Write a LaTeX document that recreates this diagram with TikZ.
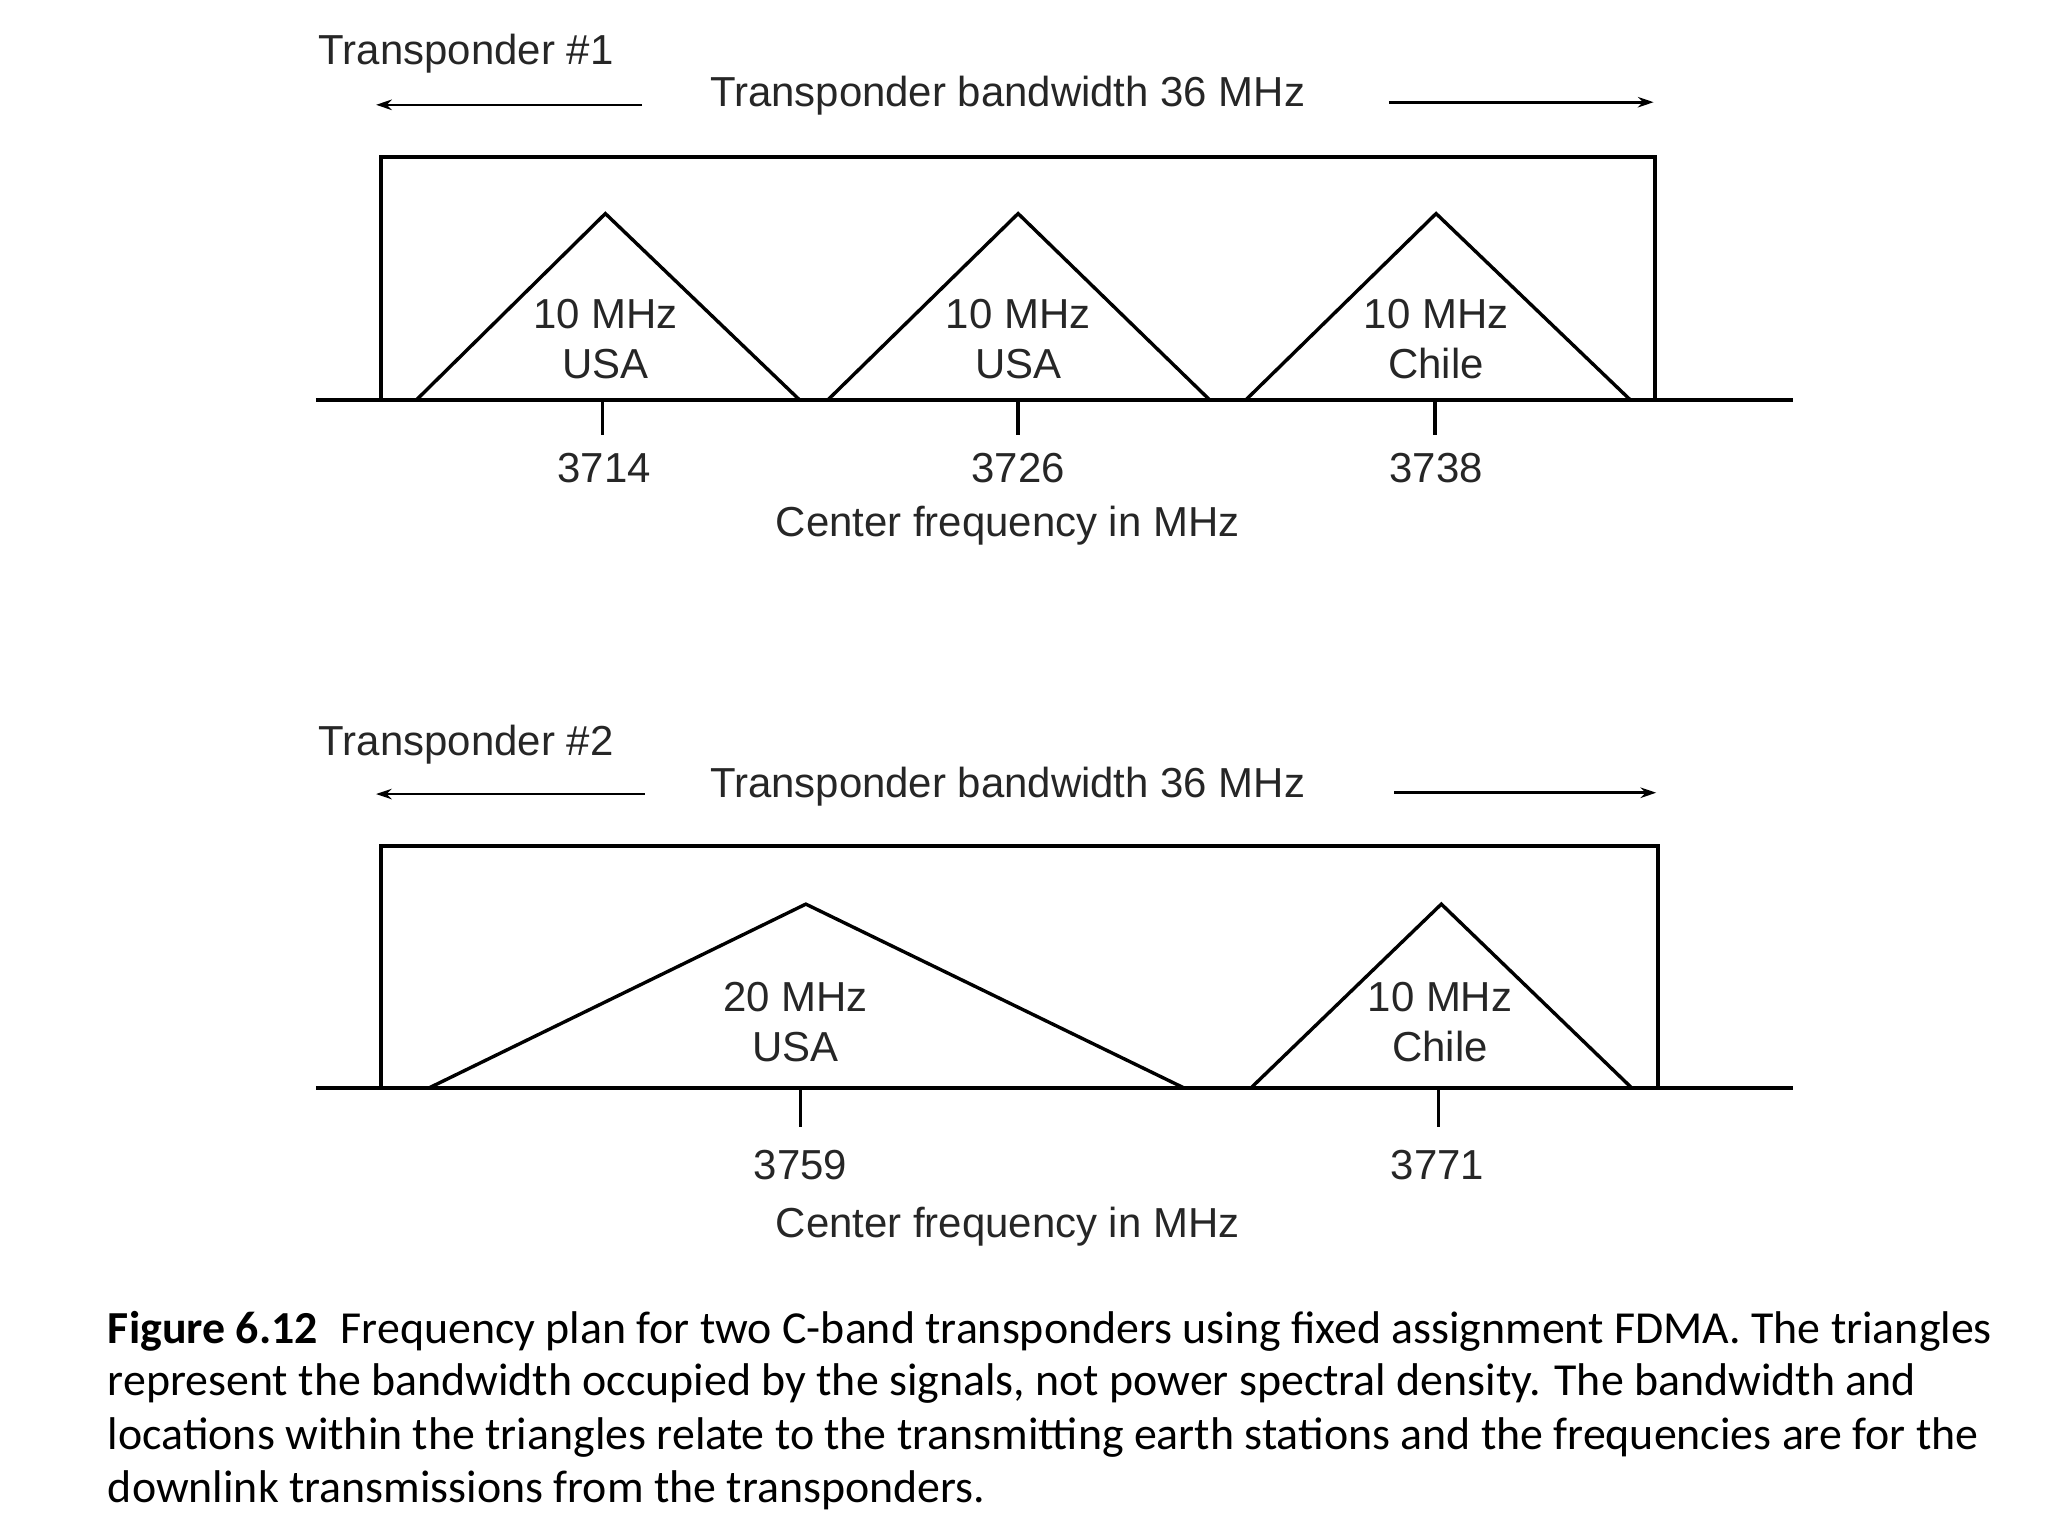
\documentclass[tikz,border=0pt]{standalone}
\usepackage{fontspec}
\usetikzlibrary{arrows.meta}
\setmainfont{Liberation Sans}
\newfontfamily\capfont{Carlito}
\begin{document}
\begin{tikzpicture}[x=0.5pt,y=-0.5pt,
  lbl/.style={font=\fontsize{16}{18}\selectfont, inner sep=0pt, text=black!85},
  ln/.style={line width=1.5pt},
  tri/.style={line width=1.3pt, line join=miter},
  arr/.style={line width=1pt,-{Stealth[length=6pt,width=4pt]}},
  captxt/.style={font=\capfont\fontsize{17.5}{20}\selectfont, anchor=west, inner sep=0pt}]
\useasboundingbox (0,0) rectangle (1563,1172);
% ---------- Panel 1
\node[lbl,anchor=west] (t1) at (243,41) {Transponder \#1};
\node[lbl] (bw1) at (769,73) {Transponder bandwidth 36 MHz};
\coordinate (a1s) at (490,80); \coordinate (a1e) at (287,80);
\coordinate (b1s) at (1060,78); \coordinate (b1e) at (1262,78);
\draw[arr] (a1s) -- (a1e);
\draw[arr] (b1s) -- (b1e);
\draw[ln] (291,305) -- (291,120) -- (1263,120) -- (1263,305);
\draw[ln] (241,305) -- (1368,305);
\draw[tri] (318,305) -- (462,163) -- (610,305);
\draw[tri] (632,305) -- (777,163) -- (923,305);
\draw[tri] (951,305) -- (1096,163) -- (1244,305);
\foreach \x in {460,777,1095}{\draw[line width=1.3pt] (\x,305) -- (\x,332);}
\node[lbl,align=center] (s1) at (462,259) {10 MHz\\[1pt]USA};
\node[lbl,align=center] (s2) at (777,259) {10 MHz\\[1pt]USA};
\node[lbl,align=center] (s3) at (1096,259) {10 MHz\\[1pt]Chile};
\node[lbl] (f1) at (461,357) {3714};
\node[lbl] (f2) at (777,357) {3726};
\node[lbl] (f3) at (1096,357) {3738};
\node[lbl] (c1) at (769,401) {Center frequency in MHz};
% ---------- Panel 2
\node[lbl,anchor=west] (t2) at (243,568) {Transponder \#2};
\node[lbl] (bw2) at (769,600) {Transponder bandwidth 36 MHz};
\coordinate (a2s) at (492,606); \coordinate (a2e) at (287,606);
\coordinate (b2s) at (1064,605); \coordinate (b2e) at (1264,605);
\draw[arr] (a2s) -- (a2e);
\draw[arr] (b2s) -- (b2e);
\draw[ln] (291,830) -- (291,646) -- (1265,646) -- (1265,830);
\draw[ln] (241,830) -- (1368,830);
\draw[tri] (328,830) -- (615,690) -- (903,830);
\draw[tri] (955,830) -- (1100,690) -- (1245,830);
\foreach \x in {611,1098}{\draw[line width=1.3pt] (\x,830) -- (\x,860);}
\node[lbl,align=center] (s4) at (607,780) {20 MHz\\[1pt]USA};
\node[lbl,align=center] (s5) at (1099,780) {10 MHz\\[1pt]Chile};
\node[lbl] (f4) at (611,889) {3759};
\node[lbl] (f5) at (1097,889) {3771};
\node[lbl] (c2) at (769,936) {Center frequency in MHz};
% ---------- Caption
\node[captxt] (l1) at (82,1016) {\textbf{Figure 6.12}\hspace{0.5em}Frequency plan for two C-band transponders using fixed assignment FDMA. The triangles};
\node[captxt] (l2) at (82,1056) {represent the bandwidth occupied by the signals, not power spectral density. The bandwidth and};
\node[captxt] (l3) at (82,1097) {locations within the triangles relate to the transmitting earth stations and the frequencies are for the};
\node[captxt] (l4) at (82,1137) {downlink transmissions from the transponders.};
\end{tikzpicture}
\end{document}
